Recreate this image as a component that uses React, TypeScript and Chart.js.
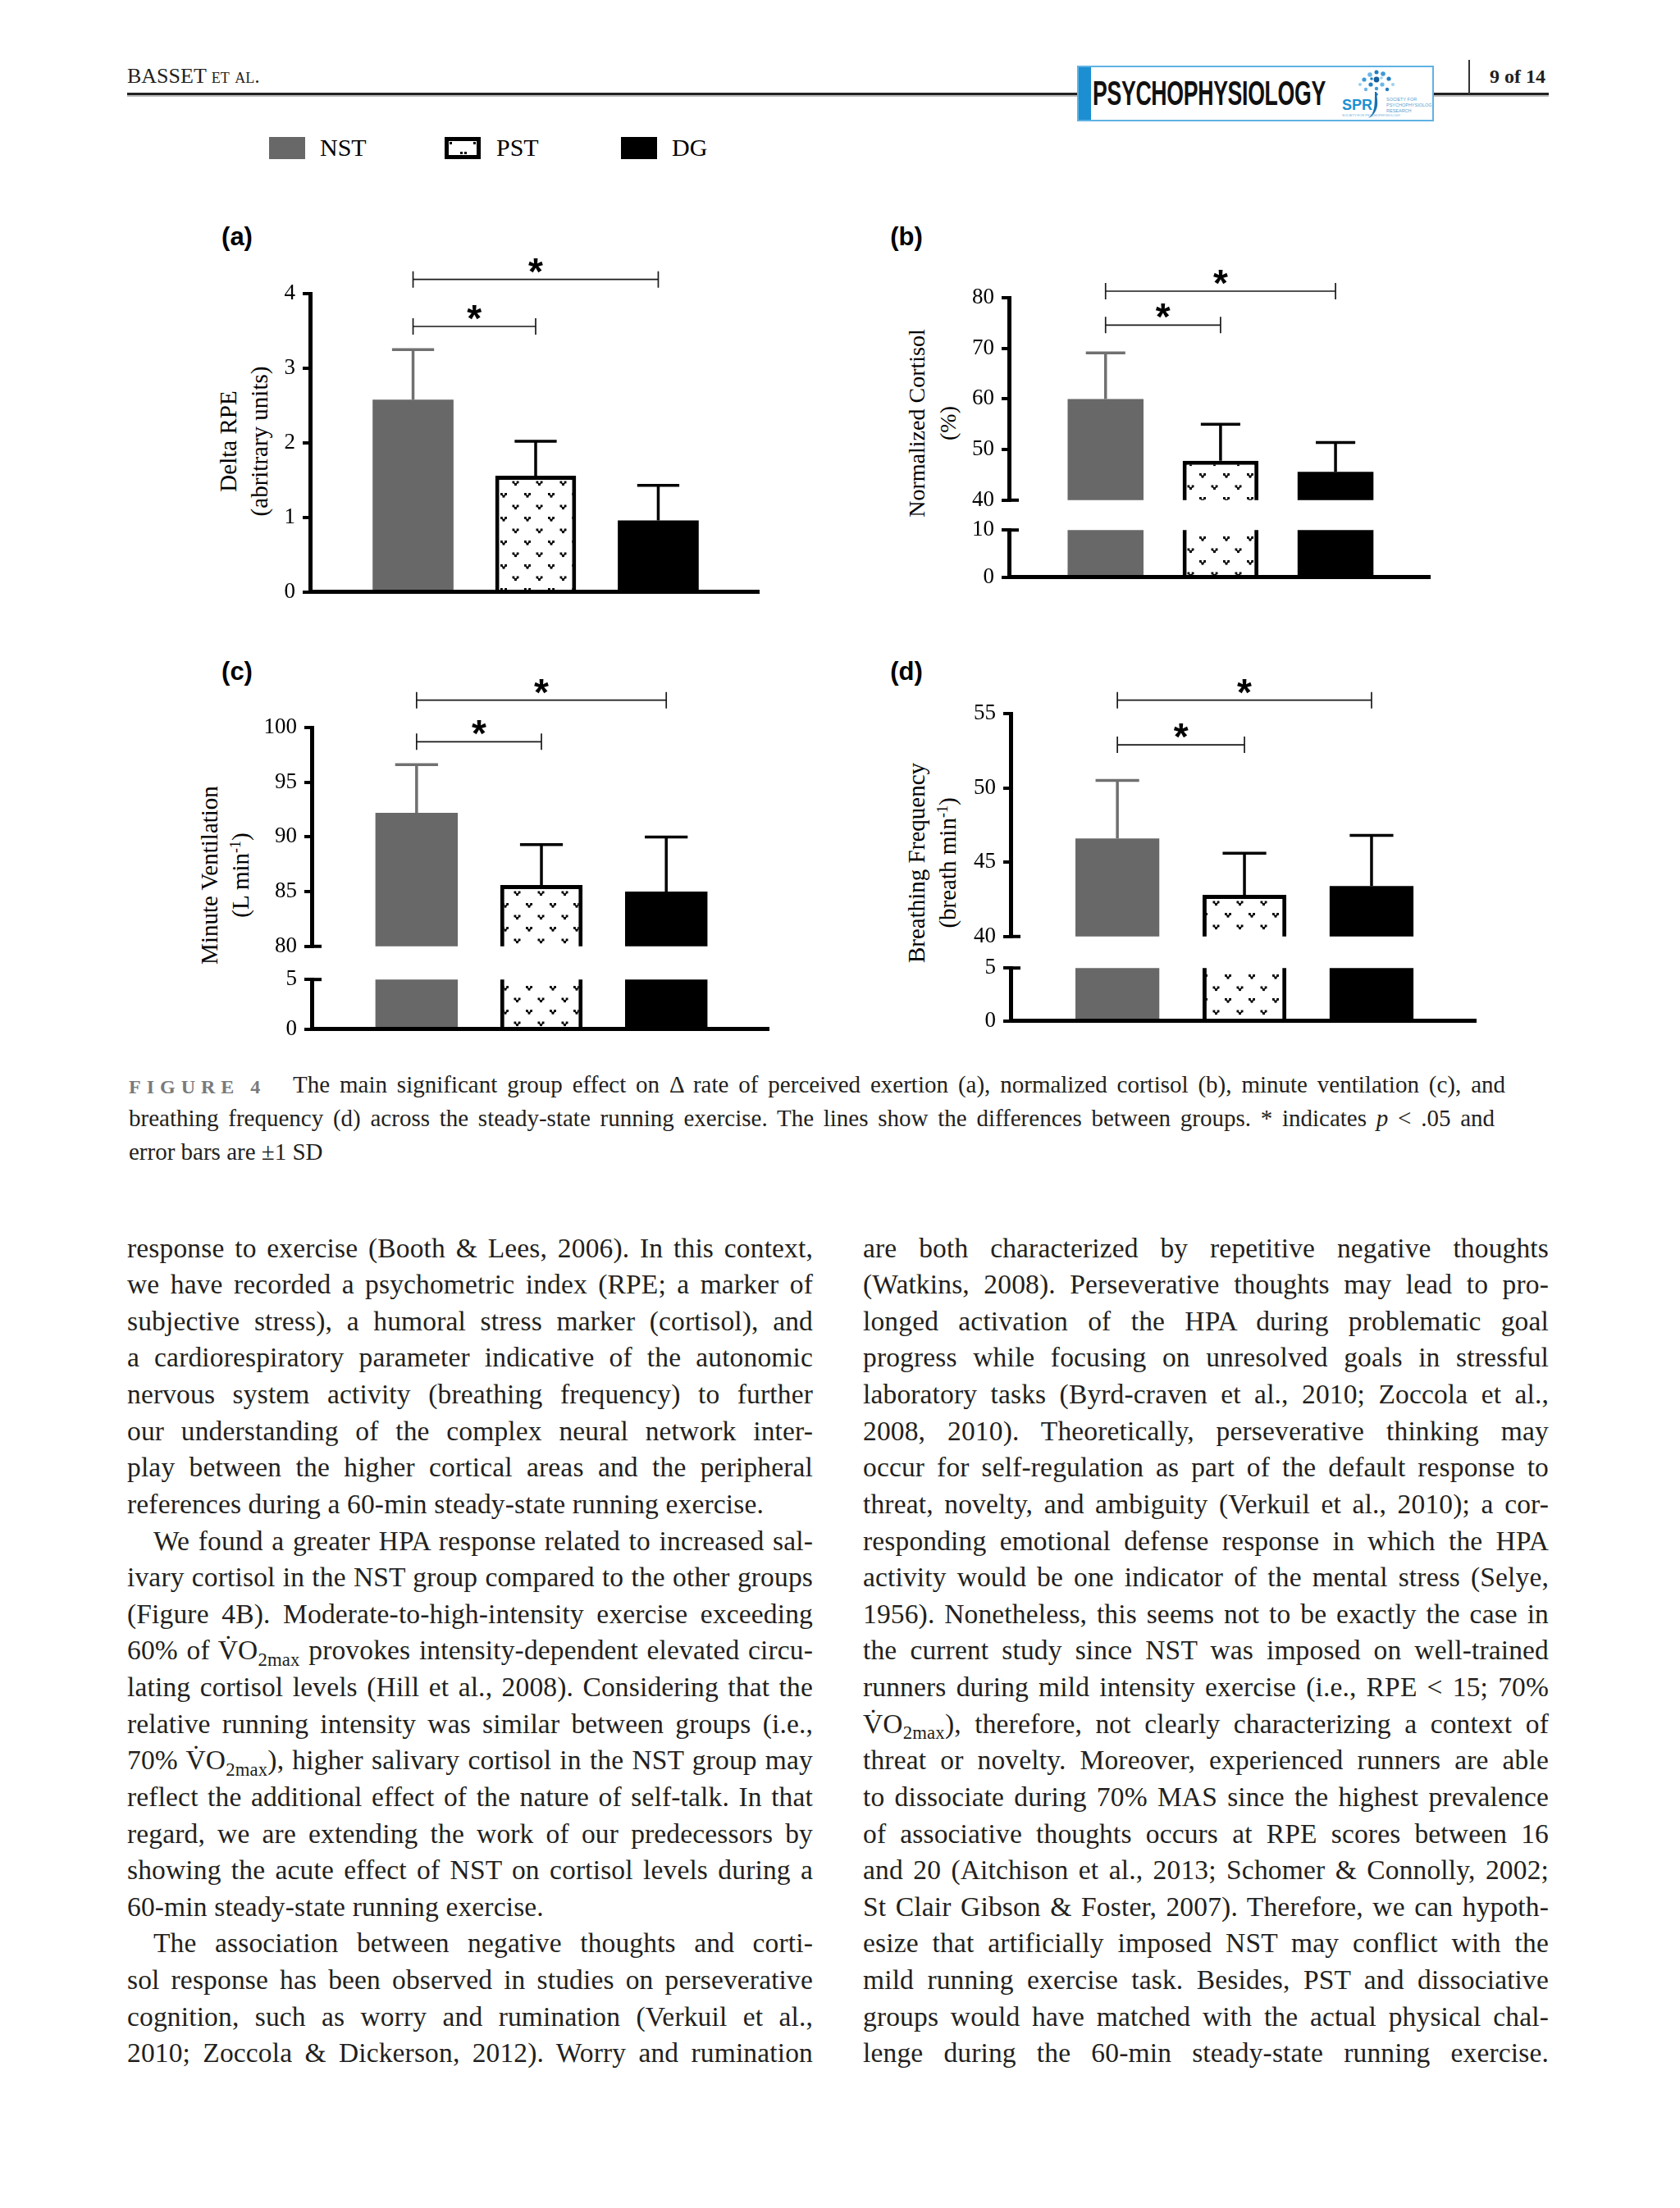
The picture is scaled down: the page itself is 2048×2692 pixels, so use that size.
import React, { useEffect, useRef } from 'react';
import { Chart, registerables } from 'chart.js';

Chart.register(...registerables);

// ---------------- data ----------------
const groups = ['NST', 'PST', 'DG'];
const groupPositions = [1, 2, 3];

const rpeMeans = [2.58, 1.56, 0.96];
const rpeSD = [0.67, 0.46, 0.47];
const cortisolMeans = [60.0, 47.8, 45.6];
const cortisolSD = [9.1, 7.2, 5.8];
const ventilationMeans = [92.2, 85.6, 85.0];
const ventilationSD = [4.4, 3.7, 5.0];
const breathingMeans = [46.6, 42.8, 43.4];
const breathingSD = [3.9, 2.8, 3.4];

const rpeTicks = [0, 1, 2, 3, 4];
const cortisolUpperTicks = [40, 50, 60, 70, 80];
const cortisolLowerTicks = [0, 10];
const ventilationUpperTicks = [80, 85, 90, 95, 100];
const ventilationLowerTicks = [0, 5];
const breathingUpperTicks = [40, 45, 50, 55];
const breathingLowerTicks = [0, 5];

const comparisons = [[0, 1], [0, 2]];
const rpeBracketLevels = [3.56, 4.19];
const cortisolBracketLevels = [74.6, 81.3];
const ventilationBracketLevels = [98.7, 102.5];
const breathingBracketLevels = [52.9, 55.9];

// ---------------- styles ----------------
const SERIF = "'Liberation Serif', 'Times New Roman', serif";
const SANS = "'Liberation Sans', Arial, sans-serif";
const TEXT = '#231f20';
const NST_COLOR = '#686868';
const DG_COLOR = '#000000';
const errorColors = ['#707070', '#000000', '#000000'];
const X_MIN = 0.16;
const X_MAX = 3.82;
const AXW = 90;
const PADR = 12;

function drawMark(g: CanvasRenderingContext2D, x: number, y: number) {
  g.fillRect(x - 4, y - 3, 2.8, 2.8);
  g.fillRect(x + 1.2, y - 3, 2.8, 2.8);
  g.fillRect(x - 1.4, y - 0.4, 2.8, 3);
  g.strokeStyle = '#000';
  g.lineWidth = 1.4;
  g.beginPath();
  g.moveTo(x - 2.8, y - 1.5);
  g.lineTo(x, y + 1.5);
  g.lineTo(x + 2.8, y - 1.5);
  g.stroke();
}

function makePattern(): any {
  const c = document.createElement('canvas');
  c.width = 29;
  c.height = 29;
  const g = c.getContext('2d')!;
  g.fillStyle = '#ffffff';
  g.fillRect(0, 0, 29, 29);
  g.fillStyle = '#000000';
  drawMark(g, 7, 7);
  drawMark(g, 21.5, 21.5);
  return g.createPattern(c, 'repeat');
}

type Area = { left: number; top: number; right: number; bottom: number };
type Spec = {
  area: Area;
  padTop: number;
  padBottom: number;
  min: number;
  max: number;
  ticks: number[];
  means: number[];
  sds?: number[];
  bracketLevels?: number[];
  breakEdge?: 'top' | 'bottom';
  xAxis: boolean;
};

const panelA: Spec = {
  area: { left: 378, top: 358, right: 925, bottom: 722 }, padTop: 80, padBottom: 25,
  min: 0, max: 4, ticks: rpeTicks, means: rpeMeans, sds: rpeSD, bracketLevels: rpeBracketLevels, xAxis: true,
};
const panelBUpper: Spec = {
  area: { left: 1230, top: 363, right: 1743, bottom: 613 }, padTop: 80, padBottom: 22,
  min: 40, max: 80, ticks: cortisolUpperTicks, means: cortisolMeans, sds: cortisolSD,
  bracketLevels: cortisolBracketLevels, breakEdge: 'bottom', xAxis: false,
};
const panelBLower: Spec = {
  area: { left: 1230, top: 643, right: 1743, bottom: 704 }, padTop: 22, padBottom: 25,
  min: 0, max: 10, ticks: cortisolLowerTicks, means: cortisolMeans, breakEdge: 'top', xAxis: true,
};
const panelCUpper: Spec = {
  area: { left: 380, top: 887, right: 937, bottom: 1157 }, padTop: 80, padBottom: 22,
  min: 80, max: 100, ticks: ventilationUpperTicks, means: ventilationMeans, sds: ventilationSD,
  bracketLevels: ventilationBracketLevels, breakEdge: 'bottom', xAxis: false,
};
const panelCLower: Spec = {
  area: { left: 380, top: 1191, right: 937, bottom: 1255 }, padTop: 22, padBottom: 25,
  min: 0, max: 5, ticks: ventilationLowerTicks, means: ventilationMeans, breakEdge: 'top', xAxis: true,
};
const panelDUpper: Spec = {
  area: { left: 1232, top: 870, right: 1799, bottom: 1145 }, padTop: 80, padBottom: 22,
  min: 40, max: 55, ticks: breathingUpperTicks, means: breathingMeans, sds: breathingSD,
  bracketLevels: breathingBracketLevels, breakEdge: 'bottom', xAxis: false,
};
const panelDLower: Spec = {
  area: { left: 1232, top: 1177, right: 1799, bottom: 1245 }, padTop: 22, padBottom: 25,
  min: 0, max: 5, ticks: breathingLowerTicks, means: breathingMeans, breakEdge: 'top', xAxis: true,
};

function BarCanvas({ spec }: { spec: Spec }) {
  const ref = useRef<HTMLCanvasElement>(null);
  const { area, padTop, padBottom } = spec;
  const width = AXW + (area.right - area.left) + PADR;
  const height = padTop + (area.bottom - area.top) + padBottom;

  useEffect(() => {
    const canvas = ref.current;
    if (!canvas) return;
    const pattern = makePattern();

    const errorBars = {
      id: 'errorBars',
      afterDatasetsDraw(chart: any) {
        if (!spec.sds) return;
        const meta = chart.getDatasetMeta(0);
        const y = chart.scales.y;
        const ctx = chart.ctx;
        ctx.save();
        meta.data.forEach((bar: any, i: number) => {
          const top = y.getPixelForValue(spec.means[i] + spec.sds![i]);
          ctx.strokeStyle = errorColors[i];
          ctx.lineWidth = 3.5;
          ctx.lineCap = 'butt';
          ctx.beginPath();
          ctx.moveTo(bar.x, bar.y);
          ctx.lineTo(bar.x, top);
          ctx.moveTo(bar.x - bar.width * 0.26, top);
          ctx.lineTo(bar.x + bar.width * 0.26, top);
          ctx.stroke();
        });
        ctx.restore();
      },
    };

    const brackets = {
      id: 'brackets',
      afterDraw(chart: any) {
        if (!spec.bracketLevels) return;
        const meta = chart.getDatasetMeta(0);
        const y = chart.scales.y;
        const ctx = chart.ctx;
        ctx.save();
        comparisons.forEach(([a, b], k) => {
          const xa = meta.data[a].x;
          const xb = meta.data[b].x;
          const yy = y.getPixelForValue(spec.bracketLevels![k]);
          ctx.strokeStyle = '#1a1a1a';
          ctx.lineWidth = 1.7;
          ctx.beginPath();
          ctx.moveTo(xa, yy);
          ctx.lineTo(xb, yy);
          ctx.moveTo(xa, yy - 10);
          ctx.lineTo(xa, yy + 10);
          ctx.moveTo(xb, yy - 10);
          ctx.lineTo(xb, yy + 10);
          ctx.stroke();
          ctx.fillStyle = '#000';
          ctx.font = `bold 46px ${SANS}`;
          ctx.textAlign = 'center';
          ctx.textBaseline = 'alphabetic';
          const m = ctx.measureText('*');
          const cy = yy - 17;
          const base = cy + (m.actualBoundingBoxAscent - m.actualBoundingBoxDescent) / 2;
          ctx.fillText('*', (xa + xb) / 2, base);
        });
        ctx.restore();
      },
    };

    const breakTick = {
      id: 'breakTick',
      afterDraw(chart: any) {
        if (!spec.breakEdge) return;
        const ca = chart.chartArea;
        const yy = spec.breakEdge === 'bottom' ? ca.bottom : ca.top;
        const ctx = chart.ctx;
        ctx.save();
        ctx.fillStyle = '#000';
        ctx.fillRect(ca.left - 2, yy - 2, 14, 4);
        ctx.restore();
      },
    };

    const chart = new Chart(canvas, {
      type: 'bar',
      data: {
        datasets: [
          {
            label: groups.join(' / '),
            data: spec.means.map((m, i) => ({ x: groupPositions[i], y: m })),
            backgroundColor: [NST_COLOR, pattern, DG_COLOR],
            borderColor: ['rgba(0,0,0,0)', '#000000', 'rgba(0,0,0,0)'],
            borderWidth: [0, 5, 0],
            borderSkipped: 'start',
            barPercentage: 0.66,
            categoryPercentage: 1,
            clip: 0,
          } as any,
        ],
      },
      options: {
        responsive: false,
        animation: false,
        devicePixelRatio: 1,
        events: [],
        layout: { padding: { top: padTop, bottom: padBottom, left: 0, right: PADR } },
        plugins: {
          legend: { display: false },
          tooltip: { enabled: false },
          title: { display: false },
        },
        scales: {
          x: {
            type: 'linear',
            min: X_MIN,
            max: X_MAX,
            offset: false,
            afterBuildTicks: (s: any) => { s.ticks = groupPositions.map((v) => ({ value: v })); },
            afterFit: (s: any) => { s.height = 0; },
            grid: { display: false, drawTicks: false },
            ticks: { display: false },
            border: { display: spec.xAxis, width: 5, color: '#000', z: 1 },
          },
          y: {
            type: 'linear',
            min: spec.min,
            max: spec.max,
            afterBuildTicks: (s: any) => { s.ticks = spec.ticks.map((v) => ({ value: v })); },
            afterFit: (s: any) => { s.width = AXW; },
            border: { display: true, width: 5, color: '#000', z: 1 },
            grid: { display: true, drawOnChartArea: false, drawTicks: true, tickLength: 9, lineWidth: 4, color: '#000' },
            ticks: { color: '#000', font: { family: SERIF, size: 27 }, padding: 9, autoSkip: false },
          },
        } as any,
      },
      plugins: [errorBars, brackets, breakTick],
    } as any);
    return () => chart.destroy();
  }, []);

  return (
    <canvas
      ref={ref}
      width={width}
      height={height}
      style={{ position: 'absolute', left: area.left - AXW, top: area.top - padTop, width, height }}
    />
  );
}

function PatternSwatch({ left, top }: { left: number; top: number }) {
  const ref = useRef<HTMLCanvasElement>(null);
  useEffect(() => {
    const c = ref.current;
    if (!c) return;
    const g = c.getContext('2d')!;
    g.fillStyle = '#000';
    g.fillRect(0, 0, 44, 27);
    g.fillStyle = '#fff';
    g.fillRect(5, 5, 34, 17);
    g.fillStyle = '#000';
    g.fillRect(6, 6, 3, 3);
    g.fillRect(35, 6, 3, 3);
    g.fillRect(19, 18, 3, 3);
    g.fillRect(24, 18, 3, 3);
  }, []);
  return <canvas ref={ref} width={44} height={27} style={{ position: 'absolute', left, top, width: 44, height: 27 }} />;
}

function AxisTitle({ cx, cy, size, children }: any) {
  return (
    <div
      style={{
        position: 'absolute', left: cx, top: cy, transform: 'translate(-50%, -50%) rotate(-90deg)',
        fontFamily: SERIF, fontSize: size, lineHeight: '38px', textAlign: 'center', whiteSpace: 'nowrap', color: '#000',
      }}
    >
      {children}
    </div>
  );
}

function PanelLabel({ cx, cy, text }: { cx: number; cy: number; text: string }) {
  return (
    <div
      style={{
        position: 'absolute', left: cx, top: cy, transform: 'translate(-50%, -50%)',
        fontFamily: SANS, fontWeight: 700, fontSize: 31, lineHeight: '31px', color: '#000', whiteSpace: 'nowrap',
      }}
    >
      {text}
    </div>
  );
}

const Sup = ({ children }: any) => (
  <span style={{ fontSize: '0.62em', position: 'relative', top: '-0.55em' }}>{children}</span>
);

// ---------------- body text ----------------
type Line = { t: string; indent?: boolean; last?: boolean };

const leftColumn: Line[] = [
  { t: 'response to exercise (Booth & Lees, 2006). In this context,' },
  { t: 'we have recorded a psychometric index (RPE; a marker of' },
  { t: 'subjective stress), a humoral stress marker (cortisol), and' },
  { t: 'a cardiorespiratory parameter indicative of the autonomic' },
  { t: 'nervous system activity (breathing frequency) to further' },
  { t: 'our understanding of the complex neural network inter-' },
  { t: 'play between the higher cortical areas and the peripheral' },
  { t: 'references during a 60-min steady-state running exercise.', last: true },
  { t: 'We found a greater HPA response related to increased sal-', indent: true },
  { t: 'ivary cortisol in the NST group compared to the other groups' },
  { t: '(Figure 4B). Moderate-to-high-intensity exercise exceeding' },
  { t: '60% of {VO2} provokes intensity-dependent elevated circu-' },
  { t: 'lating cortisol levels (Hill et al., 2008). Considering that the' },
  { t: 'relative running intensity was similar between groups (i.e.,' },
  { t: '70% {VO2}), higher salivary cortisol in the NST group may' },
  { t: 'reflect the additional effect of the nature of self-talk. In that' },
  { t: 'regard, we are extending the work of our predecessors by' },
  { t: 'showing the acute effect of NST on cortisol levels during a' },
  { t: '60-min steady-state running exercise.', last: true },
  { t: 'The association between negative thoughts and corti-', indent: true },
  { t: 'sol response has been observed in studies on perseverative' },
  { t: 'cognition, such as worry and rumination (Verkuil et al.,' },
  { t: '2010; Zoccola & Dickerson, 2012). Worry and rumination' },
];

const rightColumn: Line[] = [
  { t: 'are both characterized by repetitive negative thoughts' },
  { t: '(Watkins, 2008). Perseverative thoughts may lead to pro-' },
  { t: 'longed activation of the HPA during problematic goal' },
  { t: 'progress while focusing on unresolved goals in stressful' },
  { t: 'laboratory tasks (Byrd-craven et al., 2010; Zoccola et al.,' },
  { t: '2008, 2010). Theoretically, perseverative thinking may' },
  { t: 'occur for self-regulation as part of the default response to' },
  { t: 'threat, novelty, and ambiguity (Verkuil et al., 2010); a cor-' },
  { t: 'responding emotional defense response in which the HPA' },
  { t: 'activity would be one indicator of the mental stress (Selye,' },
  { t: '1956). Nonetheless, this seems not to be exactly the case in' },
  { t: 'the current study since NST was imposed on well-trained' },
  { t: 'runners during mild intensity exercise (i.e., RPE < 15; 70%' },
  { t: '{VO2}), therefore, not clearly characterizing a context of' },
  { t: 'threat or novelty. Moreover, experienced runners are able' },
  { t: 'to dissociate during 70% MAS since the highest prevalence' },
  { t: 'of associative thoughts occurs at RPE scores between 16' },
  { t: 'and 20 (Aitchison et al., 2013; Schomer & Connolly, 2002;' },
  { t: 'St Clair Gibson & Foster, 2007). Therefore, we can hypoth-' },
  { t: 'esize that artificially imposed NST may conflict with the' },
  { t: 'mild running exercise task. Besides, PST and dissociative' },
  { t: 'groups would have matched with the actual physical chal-' },
  { t: 'lenge during the 60-min steady-state running exercise.' },
];

function renderRich(t: string) {
  const parts = t.split('{VO2}');
  const out: any[] = [];
  parts.forEach((p, i) => {
    if (i > 0) {
      out.push(
        <React.Fragment key={'v' + i}>
          {'V\u0307O'}
          <span style={{ fontSize: '0.68em', position: 'relative', top: '0.32em' }}>2max</span>
        </React.Fragment>,
      );
    }
    out.push(<React.Fragment key={'t' + i}>{p}</React.Fragment>);
  });
  return out;
}

const BODY_LH = 44.63;

function Column({ left, lines }: { left: number; lines: Line[] }) {
  return (
    <div
      style={{
        position: 'absolute', left, top: 1499.5, width: 836, fontFamily: SERIF, fontSize: 33.5,
        lineHeight: `${BODY_LH}px`, color: TEXT, letterSpacing: 0.15,
      }}
    >
      {lines.map((ln, i) => (
        <div
          key={i}
          style={{
            height: BODY_LH, whiteSpace: 'nowrap', paddingLeft: ln.indent ? 32 : 0,
            textAlign: ln.last ? 'left' : 'justify', textAlignLast: ln.last ? 'left' : 'justify',
          } as any}
        >
          {renderRich(ln.t)}
        </div>
      ))}
    </div>
  );
}

const treeDots = [
  [46, 6, 2.5, '#1f7fc1'], [54, 8, 2.8, '#3f9ad6'], [38, 9, 2.8, '#6bb6e6'], [61, 14, 2.6, '#1f7fc1'],
  [31, 15, 2.6, '#3f9ad6'], [46, 15, 3.4, '#155f99'], [53, 21, 2.6, '#6bb6e6'], [39, 21, 2.6, '#1f7fc1'],
  [46, 26, 2.2, '#3f9ad6'], [59, 27, 2.2, '#1f7fc1'], [33, 27, 2.2, '#6bb6e6'], [66, 21, 2.1, '#9bd0f0'],
  [26, 21, 2.1, '#9bd0f0'], [52, 13, 1.8, '#9bd0f0'], [40, 14, 1.8, '#1f7fc1'], [46, 33, 1.8, '#1f7fc1'],
];

export default function App() {
  return (
    <div
      style={{
        position: 'absolute', left: 0, top: 0, width: 2048, height: 2692, background: '#fff',
        overflow: 'hidden', fontFamily: SERIF, color: TEXT,
      }}
    >
      {/* header */}
      <div style={{ position: 'absolute', left: 155, top: 80, fontSize: 26, lineHeight: '26px', whiteSpace: 'nowrap', color: TEXT }}>
        BASSET <span style={{ fontVariant: 'small-caps' }}>et al.</span>
      </div>
      <div style={{ position: 'absolute', left: 155, top: 113, width: 1733, height: 3, background: '#222' }} />
      <div style={{ position: 'absolute', left: 155, top: 116, width: 1733, height: 2, background: '#bdbdbd' }} />
      <div style={{ position: 'absolute', left: 1790, top: 73, width: 2, height: 42, background: '#333' }} />
      <div style={{ position: 'absolute', left: 1816, top: 80, fontSize: 24, lineHeight: '26px', fontWeight: 700, whiteSpace: 'nowrap' }}>
        9 of 14
      </div>
      <div
        style={{
          position: 'absolute', left: 1313, top: 80, width: 435, height: 68, border: '2px solid #5fb2e3',
          boxSizing: 'border-box', background: '#fff', overflow: 'hidden',
        }}
      >
        <div style={{ position: 'absolute', left: 0, top: 0, width: 15, height: '100%', background: '#1b8fd2' }} />
        <div
          style={{
            position: 'absolute', left: 17, top: 11, fontFamily: SANS,
            fontWeight: 700, fontSize: 42, lineHeight: '42px', transform: 'scaleX(0.635)', transformOrigin: 'left top',
            color: '#111', whiteSpace: 'nowrap', letterSpacing: -0.5,
          }}
        >
          PSYCHOPHYSIOLOGY
        </div>
        <svg style={{ position: 'absolute', left: 317, top: 0 }} width={118} height={64}>
          {treeDots.map((d, i) => (
            <circle key={i} cx={d[0] as number} cy={d[1] as number} r={d[2] as number} fill={d[3] as string} />
          ))}
          <path d="M46 30 C 47 42, 50 50, 40 60 L 36 62 C 44 56, 44 46, 44 30 Z" fill="#1b6fae" />
          <text x={4} y={52} fontFamily={SANS} fontWeight={700} fontSize={18} fill="#1e8fd0">SPR</text>
          <text x={4} y={60} fontFamily={SANS} fontSize={4} fill="#6aaedc">SOCIETY FOR PSYCHOPHYSIOLOGY</text>
          <text x={58} y={41} fontFamily={SANS} fontSize={5.5} fill="#5a9fd0">SOCIETY FOR</text>
          <text x={58} y={48} fontFamily={SANS} fontSize={5.5} fill="#5a9fd0">PSYCHOPHYSIOLOGICAL</text>
          <text x={58} y={55} fontFamily={SANS} fontSize={5.5} fill="#5a9fd0">RESEARCH</text>
        </svg>
      </div>

      {/* legend */}
      <div style={{ position: 'absolute', left: 328, top: 167, width: 44, height: 27, background: NST_COLOR }} />
      <div style={{ position: 'absolute', left: 390, top: 165, fontSize: 30, lineHeight: '30px', color: '#000' }}>{groups[0]}</div>
      <PatternSwatch left={542} top={167} />
      <div style={{ position: 'absolute', left: 605, top: 165, fontSize: 30, lineHeight: '30px', color: '#000' }}>{groups[1]}</div>
      <div style={{ position: 'absolute', left: 757, top: 167, width: 44, height: 27, background: DG_COLOR }} />
      <div style={{ position: 'absolute', left: 819, top: 165, fontSize: 30, lineHeight: '30px', color: '#000' }}>{groups[2]}</div>

      {/* panels */}
      <PanelLabel cx={289} cy={288} text="(a)" />
      <PanelLabel cx={1105} cy={288} text="(b)" />
      <PanelLabel cx={289} cy={818} text="(c)" />
      <PanelLabel cx={1105} cy={818} text="(d)" />

      <AxisTitle cx={297} cy={538} size={29}>
        <div>Delta RPE</div>
        <div>(abritrary units)</div>
      </AxisTitle>
      <AxisTitle cx={1137} cy={516} size={28}>
        <div>Normalized Cortisol</div>
        <div>(%)</div>
      </AxisTitle>
      <AxisTitle cx={276} cy={1067} size={29}>
        <div>Minute Ventilation</div>
        <div>(L min<Sup>-1</Sup>)</div>
      </AxisTitle>
      <AxisTitle cx={1138} cy={1052} size={29}>
        <div>Breathing Frequency</div>
        <div>(breath min<Sup>-1</Sup>)</div>
      </AxisTitle>

      <BarCanvas spec={panelA} />
      <BarCanvas spec={panelBUpper} />
      <BarCanvas spec={panelBLower} />
      <BarCanvas spec={panelCUpper} />
      <BarCanvas spec={panelCLower} />
      <BarCanvas spec={panelDUpper} />
      <BarCanvas spec={panelDLower} />

      {/* caption */}
      <div
        style={{
          position: 'absolute', left: 157, top: 1305, fontSize: 24, lineHeight: '41px', fontWeight: 700,
          letterSpacing: 7, color: '#7a7a7a', whiteSpace: 'nowrap',
        }}
      >
        FIGURE 4
      </div>
      <div style={{ position: 'absolute', left: 157, top: 1302, fontSize: 29, lineHeight: '41.2px', color: TEXT }}>
        <div
          style={{ marginLeft: 200, width: 1478, height: 41.2, whiteSpace: 'nowrap', textAlign: 'justify', textAlignLast: 'justify' } as any}
        >
          The main significant group effect on Δ rate of perceived exertion (a), normalized cortisol (b), minute ventilation (c), and
        </div>
        <div style={{ width: 1665, height: 41.2, whiteSpace: 'nowrap', textAlign: 'justify', textAlignLast: 'justify' } as any}>
          breathing frequency (d) across the steady-state running exercise. The lines show the differences between groups. * indicates <i>p</i> {'<'} .05 and
        </div>
        <div style={{ height: 41.2, whiteSpace: 'nowrap' }}>error bars are ±1 SD</div>
      </div>

      {/* body text */}
      <Column left={155} lines={leftColumn} />
      <Column left={1052} lines={rightColumn} />
    </div>
  );
}
